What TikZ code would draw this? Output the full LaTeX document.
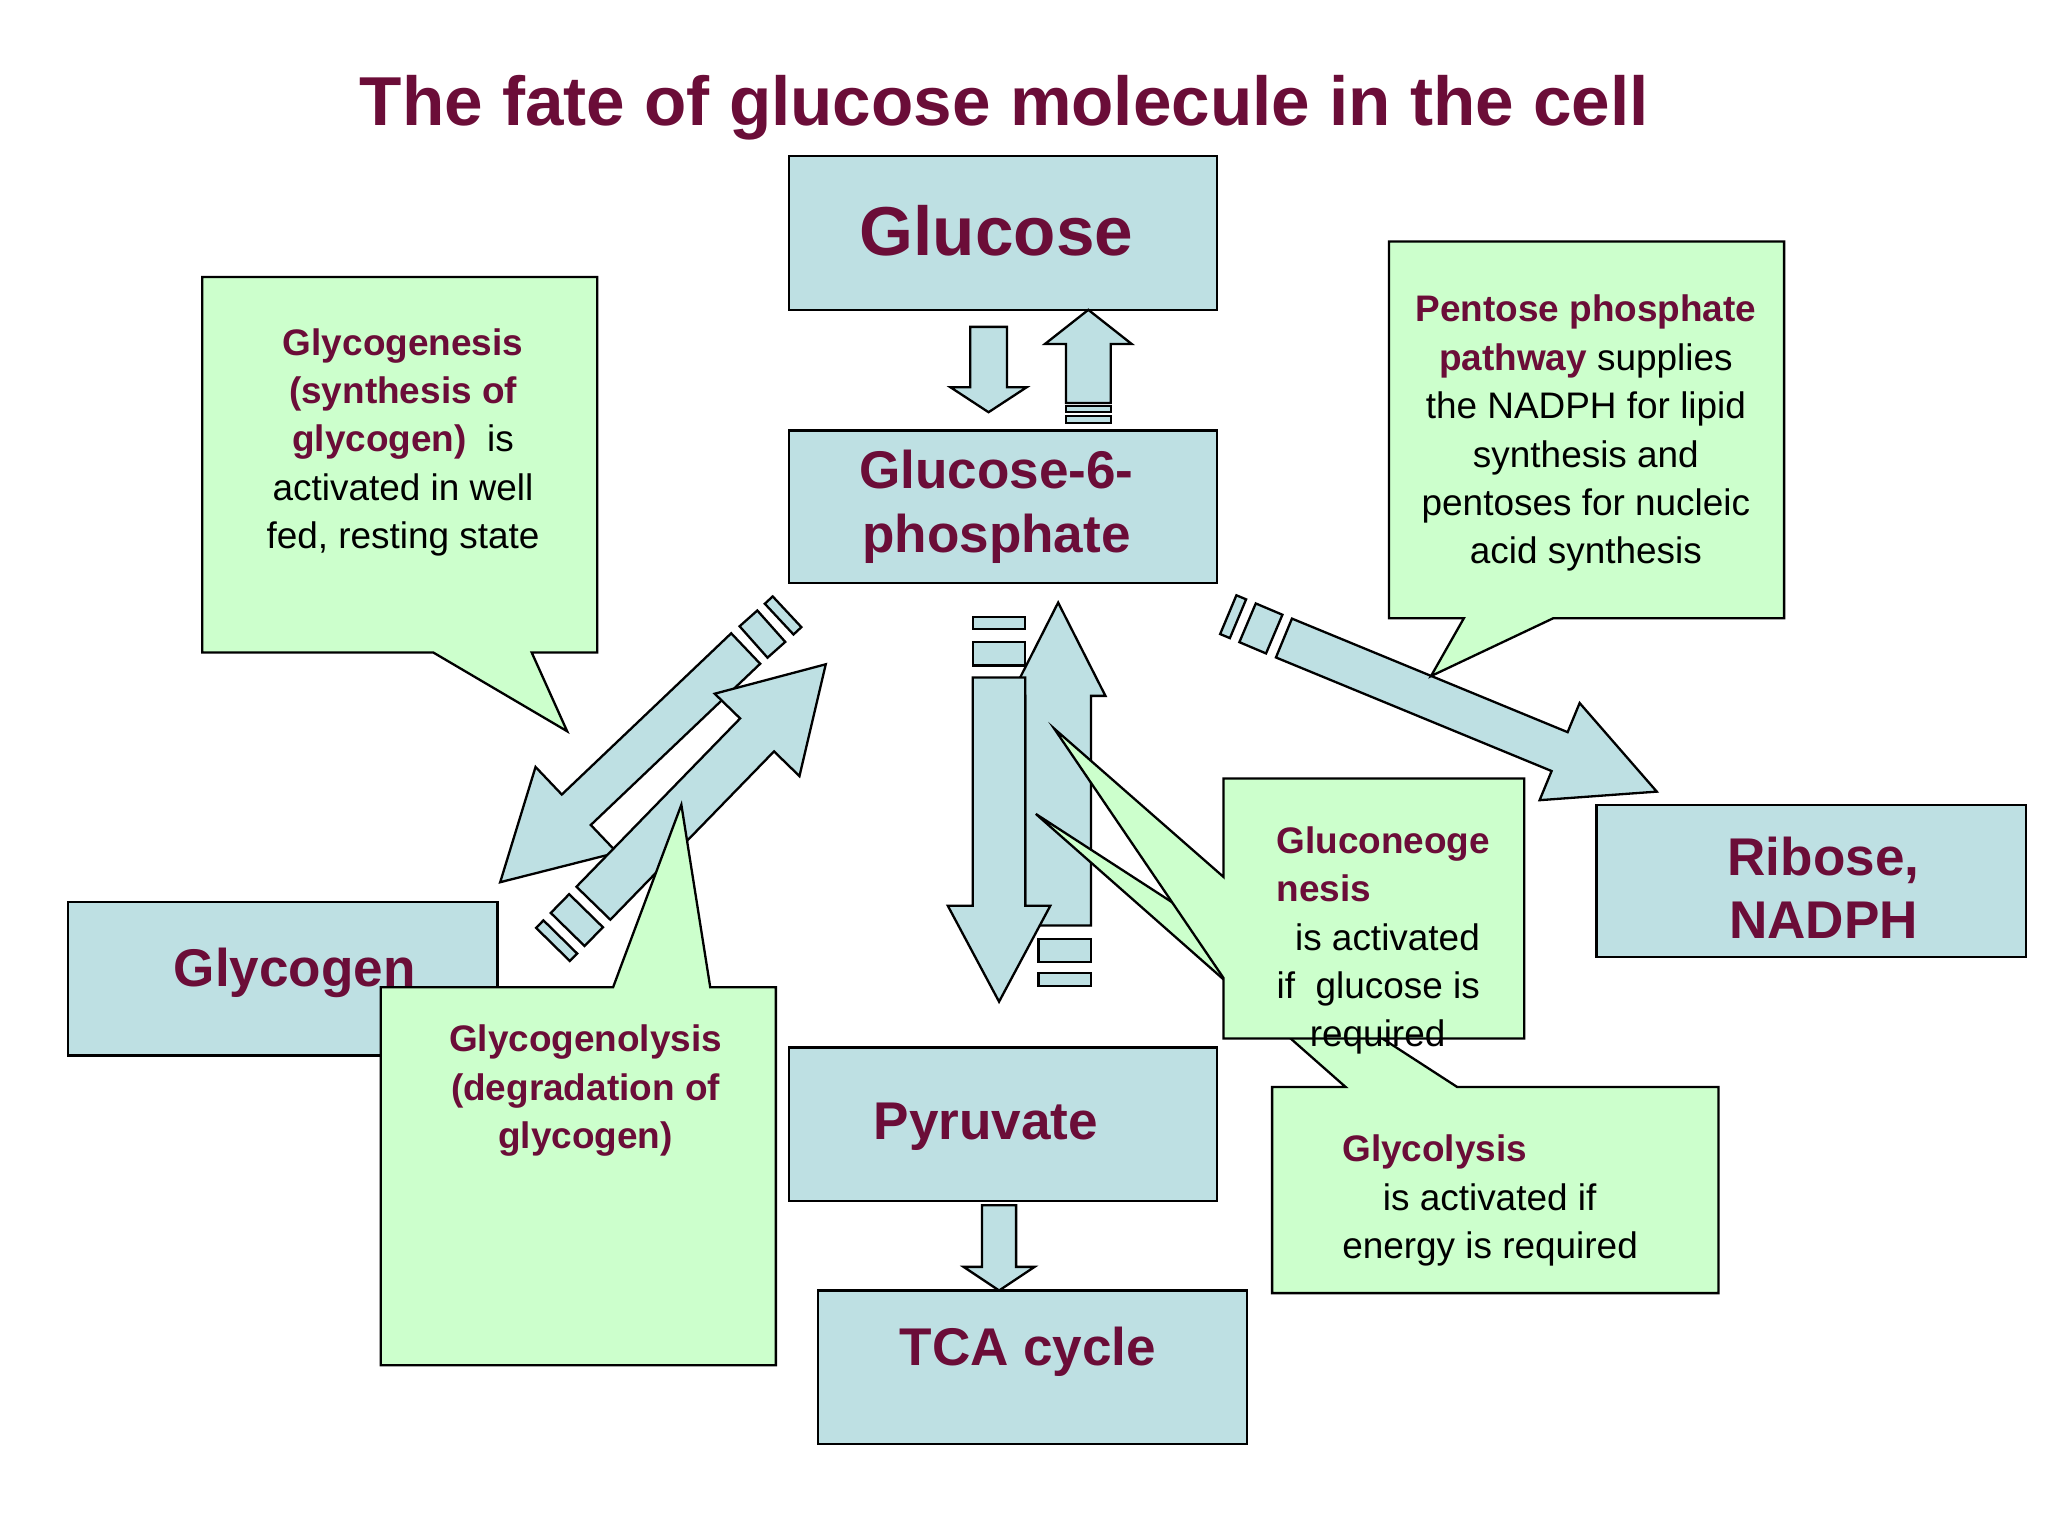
\documentclass[tikz,border=0pt]{standalone}
\usepackage{fontspec}
\setmainfont{Liberation Sans}
\usetikzlibrary{calc}
\definecolor{mar}{HTML}{6B0D38}
\definecolor{boxc}{HTML}{BEE0E3}
\definecolor{callc}{HTML}{CCFFCC}
\newcommand\blockarrow[5]{%
 \path (#1) coordinate (ba0) (#2) coordinate (ba1);
 \path ($(ba1)!#5!(ba0)$) coordinate (bah);
 \filldraw[arr] ($(ba0)!#3!90:(ba1)$) -- ($(bah)!#3!-90:(ba0)$) -- ($(bah)!#4!-90:(ba0)$) -- (ba1)
   -- ($(bah)!#4!90:(ba0)$) -- ($(bah)!#3!90:(ba0)$) -- ($(ba0)!#3!-90:(ba1)$) -- cycle;}
\newcommand\barseg[3]{%
 \path (#1) coordinate (bb0) (#2) coordinate (bb1);
 \filldraw[arr] ($(bb0)!#3!90:(bb1)$) -- ($(bb1)!#3!-90:(bb0)$) -- ($(bb1)!#3!90:(bb0)$) -- ($(bb0)!#3!-90:(bb1)$) -- cycle;}
\tikzset{
 arr/.style={fill=boxc,draw=black,line width=0.5pt},
 bx/.style={fill=boxc,draw=black,line width=0.5pt},
 bt/.style={font=\bfseries\fontsize{11.5}{13.7}\selectfont,text=mar,align=center},
 cl/.style={fill=callc,draw=black,line width=0.5pt},
 ct/.style={font=\fontsize{8}{10.5}\selectfont,align=center},
}
\begin{document}
\begin{tikzpicture}[x=0.01cm,y=-0.01cm]
\useasboundingbox (0,0) rectangle (1560,1170);
\node[font=\bfseries\fontsize{15}{18}\selectfont,text=mar] (title) at (765,82) {The fate of glucose molecule in the cell};
% boxes
\draw[bx] (601,119) rectangle (927,236); \node[bt,font=\bfseries\fontsize{15}{18}\selectfont] (glu) at (759,176) {Glucose};
\draw[bx] (601,328) rectangle (927,444); \node[bt] (g6p) at (759,386) {Glucose-6-\\phosphate};
\draw[bx] (1216,613) rectangle (1543,729); \node[bt] (rib) at (1389,676) {Ribose,\\NADPH};
\draw[bx] (52,687) rectangle (379,804); \node[bt,anchor=west] (gly) at (120,741) {Glycogen};
\draw[bx] (601,798) rectangle (927,915); \node[bt] (pyr) at (751,858) {Pyruvate};
\draw[bx] (623,983) rectangle (950,1100); \node[bt] (tca) at (783,1030) {TCA cycle};
% small arrows
\blockarrow{753,249}{753,314}{0.14cm}{0.29cm}{0.19cm}
\blockarrow{829,307}{829,236}{0.17cm}{0.33cm}{0.26cm}
\barseg{829,309}{829,314}{0.17cm}
\barseg{829,317}{829,322}{0.17cm}
\blockarrow{761,918}{761,983}{0.13cm}{0.27cm}{0.18cm}
% big vertical arrows
\blockarrow{806,705}{806,459}{0.25cm}{0.36cm}{0.71cm}
\barseg{811,715}{811,733}{0.2cm}
\barseg{811,741}{811,751}{0.2cm}
\blockarrow{761,516}{761,763}{0.2cm}{0.39cm}{0.73cm}
\barseg{761,489}{761,507}{0.2cm}
\barseg{761,470}{761,479}{0.2cm}
% diagonal arrows
\blockarrow{568,494}{381,672}{0.16cm}{0.45cm}{0.8cm}
\barseg{574,489}{587.5,477}{0.16cm}
\barseg{593.5,471.6}{599.5,466}{0.16cm}
\blockarrow{452,688}{629,506}{0.18cm}{0.45cm}{0.75cm}
\barseg{446.4,693.7}{432.4,708}{0.18cm}
\barseg{426.8,713.7}{421.2,719.4}{0.18cm}
\blockarrow{978,486}{1262,603}{0.16cm}{0.4cm}{0.8cm}
\barseg{970.6,483}{950.3,474.4}{0.16cm}
\barseg{943,471.3}{935.6,468.2}{0.16cm}
% callouts
\draw[cl] (154,211) -- (455,211) -- (455,497) -- (405,497) -- (432,557) -- (330,497) -- (154,497) -- cycle;
\node[ct] (c1) at (307,337) {\textcolor{mar}{\bfseries Glycogenesis}\\\textcolor{mar}{\bfseries (synthesis of}\\\textcolor{mar}{\bfseries glycogen)}\ \ is\\activated in well\\fed, resting state};
\draw[cl] (1058,184) -- (1359,184) -- (1359,471) -- (1183,471) -- (1090,515) -- (1115,471) -- (1058,471) -- cycle;
\node[ct] (c2) at (1208,330) {\textcolor{mar}{\bfseries Pentose phosphate}\\\textcolor{mar}{\bfseries pathway} supplies\\the NADPH for lipid\\synthesis and\\pentoses for nucleic\\acid synthesis};
\draw[cl] (290,752) -- (467,752) -- (519,613) -- (541,752) -- (591,752) -- (591,1040) -- (290,1040) -- cycle;
\node[ct] (c3) at (446,831) {\textcolor{mar}{\bfseries Glycogenolysis}\\\textcolor{mar}{\bfseries (degradation of}\\\textcolor{mar}{\bfseries glycogen)}};
\draw[cl] (969,828) -- (1025,828) -- (789,620) -- (1110,828) -- (1309,828) -- (1309,985) -- (969,985) -- cycle;
\node[ct,align=left,anchor=north west] (c4) at (1010,852) {\textcolor{mar}{\bfseries Glycolysis}\\\hspace*{1.1em}is activated if\\energy is required};
\draw[cl] (932,593) -- (1161,593) -- (1161,791) -- (932,791) -- (932,745) -- (803,555) -- (932,668) -- cycle;
\node[ct,align=left,anchor=north west] (c5) at (960,617) {\textcolor{mar}{\bfseries Gluconeoge}\\\textcolor{mar}{\bfseries nesis}\\\hspace*{0.5em}is activated\\if\ \ glucose is\\\hspace*{0.9em}required};
\end{tikzpicture}
\end{document}
